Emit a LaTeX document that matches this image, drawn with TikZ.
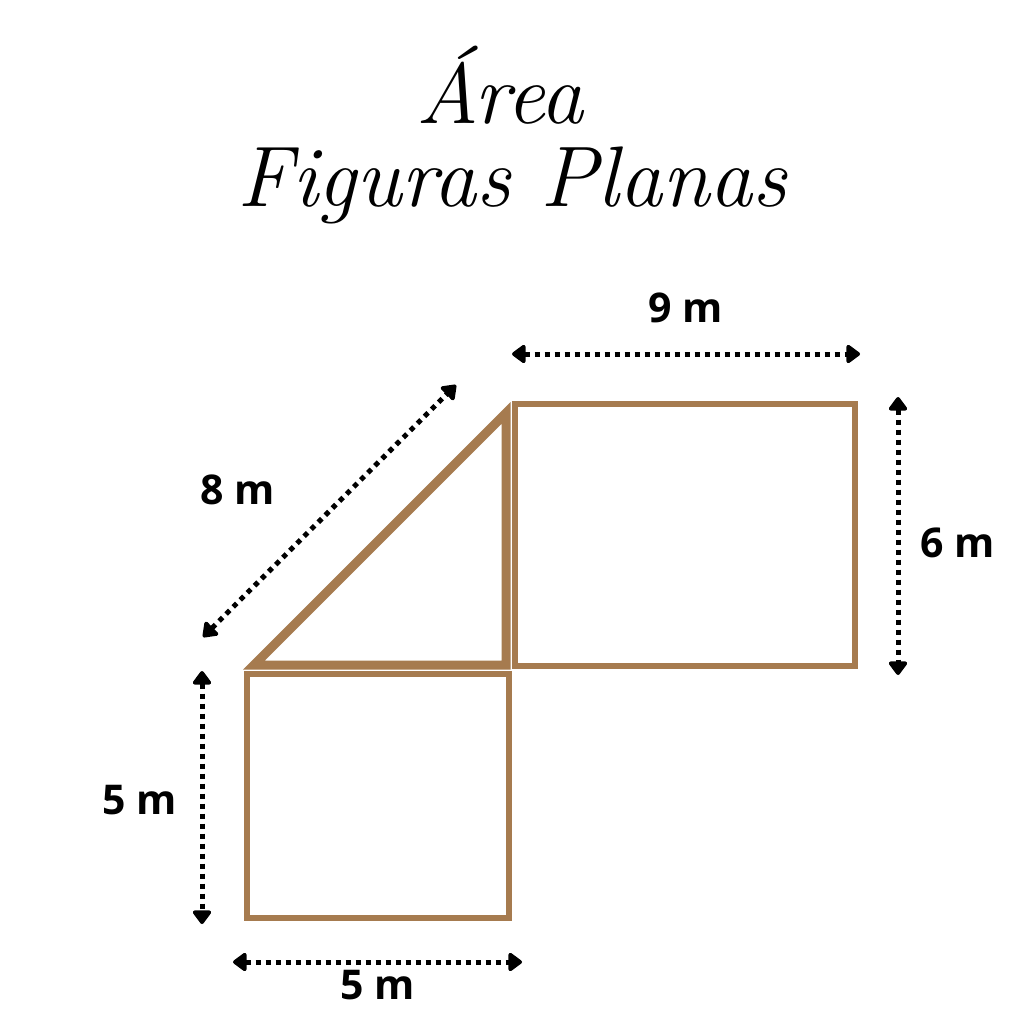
\documentclass[tikz,border=0pt]{standalone}
\usepackage{fontspec}
\newfontfamily\labelfont{Open Sans}
\usetikzlibrary{arrows.meta}
\definecolor{wood}{RGB}{166,123,79}
\tikzset{
  fig/.style={draw=wood, line width=6pt, line join=miter},
  tri/.style={draw=wood, line width=9pt, line join=miter},
  dim/.style={draw=black, line width=5pt, dash pattern=on 5pt off 5pt,
    {Triangle[length=15pt,width=21pt,round]}-{Triangle[length=15pt,width=21pt,round]}},
  lbl/.style={font=\labelfont\bfseries\fontsize{41}{48}\selectfont, inner sep=0pt},
  ttl/.style={font=\itshape\fontsize{86}{96}\selectfont, inner sep=0pt}
}
\begin{document}
\begin{tikzpicture}[x=1pt,y=-1pt]
\fill[white] (0,0) rectangle (1024,1024);
\useasboundingbox (0,0) rectangle (1024,1024);
% title
\node[ttl] (t1) at (500,85) {Área};
\node[ttl] (t2) at (512,185) {Figuras Planas};
% shapes
\draw[fig] (515,404) rectangle (855,666);
\draw[fig] (247,674) rectangle (509,918);
\draw[tri] (506,413) -- (254,665) -- (506,665) -- cycle;
% dimension endpoints
\coordinate (a1) at (512,354); \coordinate (a2) at (860,354);
\coordinate (b1) at (898,397); \coordinate (b2) at (898,675);
\coordinate (c1) at (203,637); \coordinate (c2) at (456,385);
\coordinate (d1) at (202,671); \coordinate (d2) at (202,924);
\coordinate (e1) at (233,962); \coordinate (e2) at (522,962);
\draw[dim] (a1) -- (a2);
\draw[dim] (b1) -- (b2);
\draw[dim] (c1) -- (c2);
\draw[dim] (d1) -- (d2);
\draw[dim] (e1) -- (e2);
% labels
\node[lbl] (l9) at (686,308) {9 m};
\node[lbl] (l6) at (958,543) {6 m};
\node[lbl] (l8) at (238,490) {8 m};
\node[lbl] (l5a) at (140,800) {5 m};
\node[lbl] (l5b) at (378,985) {5 m};
\end{tikzpicture}
\end{document}
